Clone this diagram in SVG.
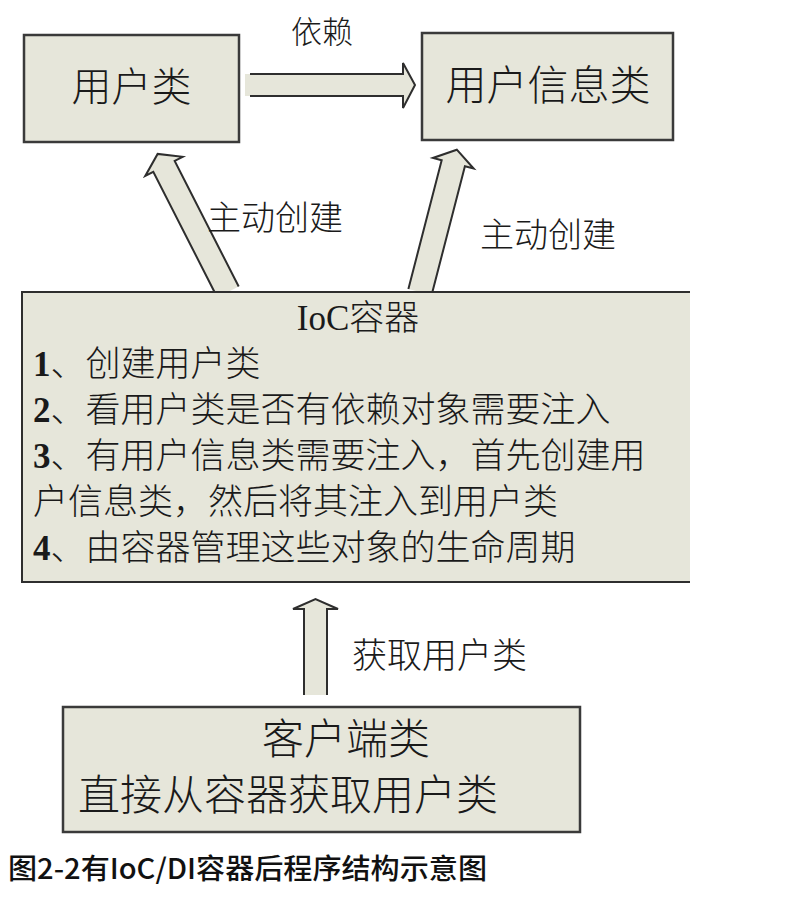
<svg xmlns="http://www.w3.org/2000/svg" width="792" height="904" viewBox="0 0 792 904">
<style>
.box{fill:#e6e6da;stroke:#3a3a3a;stroke-width:2.5}
.fill{fill:#e6e6da;stroke:none}
.edge{fill:none;stroke:#2e2e2e;stroke-width:2}
.cjk{font-family:"Noto Sans CJK SC","Noto Sans",sans-serif;font-weight:300;fill:#1a1a1a}
.num{font-family:"Liberation Serif",serif;font-weight:bold}
.ser{font-family:"Liberation Serif",serif;font-weight:normal}
.cap{font-family:"Noto Sans CJK SC","Noto Sans",sans-serif;font-weight:500;fill:#111}
</style>
<rect width="792" height="904" fill="#ffffff"/>
<g id="connectors">
  <g id="dep">
    <polygon class="fill" points="245,74 403,74 403,63 415,85 403,108 403,96 245,96"/>
    <polyline class="edge" points="250,74 403,74 403,63 415,85 403,108 403,96 250,96"/>
    <text class="cjk" x="322" y="43" font-size="31" text-anchor="middle">依赖</text>
  </g>
  <g id="create-user" transform="translate(228,292) rotate(-27)">
    <polygon class="fill" points="-12,0 -12,-141 -21,-141 0,-155 21,-141 12,-141 12,0"/>
    <polyline class="edge" points="-12,0 -12,-141 -21,-141 0,-155 21,-141 12,-141 12,0"/>
  </g>
  <text class="cjk" x="207" y="230" font-size="34">主动创建</text>
  <g id="create-info" transform="translate(420,292) rotate(14.5)">
    <polygon class="fill" points="-12,0 -12,-133 -21,-133 0,-147 21,-133 12,-133 12,0"/>
    <polyline class="edge" points="-12,0 -12,-133 -21,-133 0,-147 21,-133 12,-133 12,0"/>
  </g>
  <text class="cjk" x="480" y="247" font-size="34">主动创建</text>
  <g id="get-user">
    <polygon class="fill" points="304,695 304,609 293,609 315.5,599 338,609 327,609 327,695"/>
    <polyline class="edge" points="304,695 304,609 293,609 315.5,599 338,609 327,609 327,695"/>
  </g>
  <text class="cjk" x="352" y="668" font-size="35">获取用户类</text>
</g>
<g id="user-class">
  <rect class="box" x="24" y="35" width="215" height="107"/>
  <text class="cjk" x="131.5" y="101" font-size="40" text-anchor="middle">用户类</text>
</g>
<g id="user-info-class">
  <rect class="box" x="422" y="33" width="251" height="107"/>
  <text class="cjk" x="548" y="100" font-size="41" text-anchor="middle">用户信息类</text>
</g>
<g id="ioc-container">
  <rect class="fill" x="22" y="292" width="668" height="290"/>
  <polyline class="edge" stroke-width="2.5" points="690,292 22,292 22,582 690,582"/>
  <text class="cjk" x="358" y="330" font-size="35" text-anchor="middle"><tspan class="ser">IoC</tspan>容器</text>
  <text class="cjk" x="33" y="376" font-size="35"><tspan class="num">1</tspan>、创建用户类</text>
  <text class="cjk" x="33" y="422" font-size="35"><tspan class="num">2</tspan>、看用户类是否有依赖对象需要注入</text>
  <text class="cjk" x="33" y="468" font-size="35"><tspan class="num">3</tspan>、有用户信息类需要注入，首先创建用</text>
  <text class="cjk" x="33" y="514" font-size="35">户信息类，然后将其注入到用户类</text>
  <text class="cjk" x="33" y="560" font-size="35"><tspan class="num">4</tspan>、由容器管理这些对象的生命周期</text>
</g>
<g id="client-class">
  <rect class="box" x="63" y="707" width="517" height="125"/>
  <text class="cjk" x="346" y="754" font-size="42" text-anchor="middle">客户端类</text>
  <text class="cjk" x="78" y="810" font-size="42">直接从容器获取用户类</text>
</g>
<text class="cap" x="8" y="879" font-size="28" textLength="479" lengthAdjust="spacingAndGlyphs">图2-2有IoC/DI容器后程序结构示意图</text>
</svg>
